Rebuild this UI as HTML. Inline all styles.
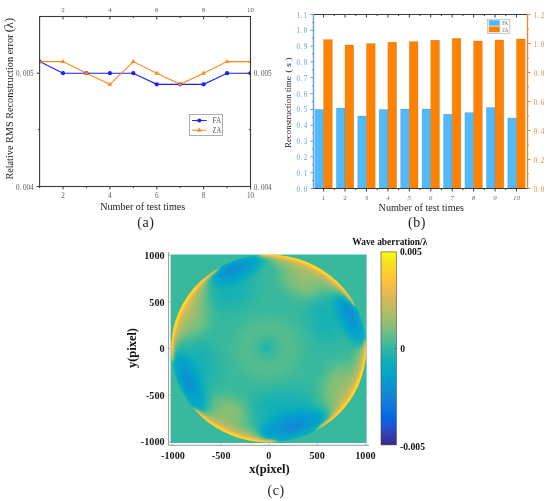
<!DOCTYPE html>
<html><head><meta charset="utf-8"><title>figure</title>
<style>html,body{margin:0;padding:0;background:#fff}svg{display:block}text{font-family:"Liberation Serif",serif}</style>
</head><body>
<svg width="550" height="501" viewBox="0 0 550 501">
<rect width="550" height="501" fill="#fff"/>
<g id="pa">
<path d="M39.60 16.5v1.6M39.60 186.5v1.6M63.03 16.5v3M63.03 186.5v3M86.47 16.5v1.6M86.47 186.5v1.6M109.90 16.5v3M109.90 186.5v3M133.33 16.5v1.6M133.33 186.5v1.6M156.77 16.5v3M156.77 186.5v3M180.20 16.5v1.6M180.20 186.5v1.6M203.63 16.5v3M203.63 186.5v3M227.07 16.5v1.6M227.07 186.5v1.6M250.50 16.5v3M250.50 186.5v3M39.6 73.2h-3M250.5 73.2h-3M39.6 186.5h-3M250.5 186.5h-3M39.6 129.6h-1.6M250.5 129.6h-1.6" stroke="#3a3a3a" stroke-width="1" fill="none"/>
<text x="63.0" y="11.8" font-size="7" text-anchor="middle" fill="#606060">2</text>
<text x="63.0" y="198.4" font-size="7.2" text-anchor="middle" fill="#606060">2</text>
<text x="109.9" y="11.8" font-size="7" text-anchor="middle" fill="#606060">4</text>
<text x="109.9" y="198.4" font-size="7.2" text-anchor="middle" fill="#606060">4</text>
<text x="156.8" y="11.8" font-size="7" text-anchor="middle" fill="#606060">6</text>
<text x="156.8" y="198.4" font-size="7.2" text-anchor="middle" fill="#606060">6</text>
<text x="203.6" y="11.8" font-size="7" text-anchor="middle" fill="#606060">8</text>
<text x="203.6" y="198.4" font-size="7.2" text-anchor="middle" fill="#606060">8</text>
<text x="250.5" y="11.8" font-size="7" text-anchor="middle" fill="#606060">10</text>
<text x="250.5" y="198.4" font-size="7.2" text-anchor="middle" fill="#606060">10</text>
<text x="33.7" y="76.0" font-size="7.4" text-anchor="end" fill="#555" textLength="17.8" lengthAdjust="spacingAndGlyphs">0. 005</text>
<text x="33.7" y="189.5" font-size="7.4" text-anchor="end" fill="#555" textLength="17.8" lengthAdjust="spacingAndGlyphs">0. 004</text>
<text x="253.8" y="76.0" font-size="7.4" text-anchor="start" fill="#555" textLength="17.8" lengthAdjust="spacingAndGlyphs">0. 005</text>
<text x="253.8" y="189.5" font-size="7.4" text-anchor="start" fill="#555" textLength="17.8" lengthAdjust="spacingAndGlyphs">0. 004</text>
<clipPath id="ca"><rect x="39.6" y="16.5" width="210.9" height="170.0"/></clipPath><g clip-path="url(#ca)">
<polyline points="39.6,61.6 63.0,73.2 86.5,73.2 109.9,73.2 133.3,73.2 156.8,84.3 180.2,84.3 203.6,84.3 227.1,73.2 250.5,73.2" fill="none" stroke="#1f1fff" stroke-width="1.15"/>
<polyline points="39.6,61.6 63.0,61.6 86.5,73.2 109.9,84.3 133.3,61.6 156.8,73.2 180.2,84.3 203.6,73.2 227.1,61.6 250.5,61.6" fill="none" stroke="#ff8a1c" stroke-width="1.15"/>
<circle cx="39.6" cy="61.6" r="2.1" fill="#1f1fff"/>
<circle cx="63.0" cy="73.2" r="2.1" fill="#1f1fff"/>
<circle cx="86.5" cy="73.2" r="2.1" fill="#1f1fff"/>
<circle cx="109.9" cy="73.2" r="2.1" fill="#1f1fff"/>
<circle cx="133.3" cy="73.2" r="2.1" fill="#1f1fff"/>
<circle cx="156.8" cy="84.3" r="2.1" fill="#1f1fff"/>
<circle cx="180.2" cy="84.3" r="2.1" fill="#1f1fff"/>
<circle cx="203.6" cy="84.3" r="2.1" fill="#1f1fff"/>
<circle cx="227.1" cy="73.2" r="2.1" fill="#1f1fff"/>
<circle cx="250.5" cy="73.2" r="2.1" fill="#1f1fff"/>
<path d="M39.6 59.0l2.4 4.1h-4.8z" fill="#ff8a1c"/>
<path d="M63.0 59.0l2.4 4.1h-4.8z" fill="#ff8a1c"/>
<path d="M86.5 70.60000000000001l2.4 4.1h-4.8z" fill="#ff8a1c"/>
<path d="M109.9 81.7l2.4 4.1h-4.8z" fill="#ff8a1c"/>
<path d="M133.3 59.0l2.4 4.1h-4.8z" fill="#ff8a1c"/>
<path d="M156.8 70.60000000000001l2.4 4.1h-4.8z" fill="#ff8a1c"/>
<path d="M180.2 81.7l2.4 4.1h-4.8z" fill="#ff8a1c"/>
<path d="M203.6 70.60000000000001l2.4 4.1h-4.8z" fill="#ff8a1c"/>
<path d="M227.1 59.0l2.4 4.1h-4.8z" fill="#ff8a1c"/>
<path d="M250.5 59.0l2.4 4.1h-4.8z" fill="#ff8a1c"/>
</g>
<rect x="39.6" y="16.5" width="210.9" height="170.0" fill="none" stroke="#3a3a3a" stroke-width="1.1"/>
<rect x="189.5" y="114.5" width="33" height="21" fill="#fff" stroke="#888" stroke-width="0.7"/>
<path d="M192 120.5h14.6" stroke="#1f1fff" stroke-width="1"/><circle cx="199.3" cy="120.5" r="2.1" fill="#1f1fff"/>
<path d="M192 130.2h14.6" stroke="#ff8a1c" stroke-width="1"/><path d="M199.3 127.6l2.4 4.1h-4.8z" fill="#ff8a1c"/>
<text x="212.6" y="123.4" font-size="8" text-anchor="start" fill="#555" textLength="8.8" lengthAdjust="spacingAndGlyphs">FA</text>
<text x="212.6" y="133.2" font-size="8" text-anchor="start" fill="#555" textLength="8.8" lengthAdjust="spacingAndGlyphs">ZA</text>
<text x="142.7" y="209.7" font-size="10.2" text-anchor="middle" fill="#1a1a1a" textLength="85" lengthAdjust="spacingAndGlyphs">Number of test times</text>
<text x="0" y="0" font-size="10.2" text-anchor="start" fill="#1a1a1a" textLength="145" lengthAdjust="spacingAndGlyphs" transform="translate(12.9 179.6) rotate(-90)">Relative RMS Reconstruction error</text>
<text x="0" y="0" font-size="11.6" text-anchor="start" fill="#1a1a1a" textLength="14.4" lengthAdjust="spacingAndGlyphs" transform="translate(13.1 32.3) rotate(-90)">(λ)</text>
<text x="145.8" y="226.6" font-size="14" text-anchor="middle" fill="#222" letter-spacing="0.6">(a)</text>
</g>
<g id="pb">
<rect x="314.90" y="109.4" width="8.7" height="79.1" fill="#4fb9fb" stroke="#3c93c8" stroke-opacity="0.45" stroke-width="0.5"/>
<rect x="323.60" y="39.6" width="8.7" height="148.9" fill="#ff8203" stroke="#b85c00" stroke-opacity="0.45" stroke-width="0.5"/>
<rect x="336.33" y="108" width="8.7" height="80.5" fill="#4fb9fb" stroke="#3c93c8" stroke-opacity="0.45" stroke-width="0.5"/>
<rect x="345.03" y="45" width="8.7" height="143.5" fill="#ff8203" stroke="#b85c00" stroke-opacity="0.45" stroke-width="0.5"/>
<rect x="357.76" y="116" width="8.7" height="72.5" fill="#4fb9fb" stroke="#3c93c8" stroke-opacity="0.45" stroke-width="0.5"/>
<rect x="366.46" y="43.6" width="8.7" height="144.9" fill="#ff8203" stroke="#b85c00" stroke-opacity="0.45" stroke-width="0.5"/>
<rect x="379.19" y="109.4" width="8.7" height="79.1" fill="#4fb9fb" stroke="#3c93c8" stroke-opacity="0.45" stroke-width="0.5"/>
<rect x="387.89" y="42.2" width="8.7" height="146.3" fill="#ff8203" stroke="#b85c00" stroke-opacity="0.45" stroke-width="0.5"/>
<rect x="400.62" y="109" width="8.7" height="79.5" fill="#4fb9fb" stroke="#3c93c8" stroke-opacity="0.45" stroke-width="0.5"/>
<rect x="409.32" y="41.6" width="8.7" height="146.9" fill="#ff8203" stroke="#b85c00" stroke-opacity="0.45" stroke-width="0.5"/>
<rect x="422.05" y="109" width="8.7" height="79.5" fill="#4fb9fb" stroke="#3c93c8" stroke-opacity="0.45" stroke-width="0.5"/>
<rect x="430.75" y="40.2" width="8.7" height="148.3" fill="#ff8203" stroke="#b85c00" stroke-opacity="0.45" stroke-width="0.5"/>
<rect x="443.48" y="114.2" width="8.7" height="74.3" fill="#4fb9fb" stroke="#3c93c8" stroke-opacity="0.45" stroke-width="0.5"/>
<rect x="452.18" y="38.4" width="8.7" height="150.1" fill="#ff8203" stroke="#b85c00" stroke-opacity="0.45" stroke-width="0.5"/>
<rect x="464.91" y="112.6" width="8.7" height="75.9" fill="#4fb9fb" stroke="#3c93c8" stroke-opacity="0.45" stroke-width="0.5"/>
<rect x="473.61" y="41" width="8.7" height="147.5" fill="#ff8203" stroke="#b85c00" stroke-opacity="0.45" stroke-width="0.5"/>
<rect x="486.34" y="107.4" width="8.7" height="81.1" fill="#4fb9fb" stroke="#3c93c8" stroke-opacity="0.45" stroke-width="0.5"/>
<rect x="495.04" y="40" width="8.7" height="148.5" fill="#ff8203" stroke="#b85c00" stroke-opacity="0.45" stroke-width="0.5"/>
<rect x="507.77" y="118" width="8.7" height="70.5" fill="#4fb9fb" stroke="#3c93c8" stroke-opacity="0.45" stroke-width="0.5"/>
<rect x="516.47" y="39" width="8.7" height="149.5" fill="#ff8203" stroke="#b85c00" stroke-opacity="0.45" stroke-width="0.5"/>
<path d="M313.5 14.5H527.5M313.5 188.5H527.5" stroke="#3a3a3a" stroke-width="1" fill="none"/>
<path d="M313.5 14.5V188.5" stroke="#66a3da" stroke-width="1.5" fill="none"/>
<path d="M527.5 14.5V188.5" stroke="#e08a3a" stroke-width="1.4" fill="none"/>
<path d="M323.60 14.5v3M323.60 188.5v3M334.31 14.5v1.6M334.31 188.5v1.6M345.03 14.5v3M345.03 188.5v3M355.75 14.5v1.6M355.75 188.5v1.6M366.46 14.5v3M366.46 188.5v3M377.18 14.5v1.6M377.18 188.5v1.6M387.89 14.5v3M387.89 188.5v3M398.60 14.5v1.6M398.60 188.5v1.6M409.32 14.5v3M409.32 188.5v3M420.04 14.5v1.6M420.04 188.5v1.6M430.75 14.5v3M430.75 188.5v3M441.46 14.5v1.6M441.46 188.5v1.6M452.18 14.5v3M452.18 188.5v3M462.89 14.5v1.6M462.89 188.5v1.6M473.61 14.5v3M473.61 188.5v3M484.32 14.5v1.6M484.32 188.5v1.6M495.04 14.5v3M495.04 188.5v3M505.75 14.5v1.6M505.75 188.5v1.6M516.47 14.5v3M516.47 188.5v3" stroke="#3a3a3a" stroke-width="1" fill="none"/>
<path d="M313.5 188.50h-3M313.5 180.59h-1.6M313.5 172.68h-3M313.5 164.77h-1.6M313.5 156.86h-3M313.5 148.95h-1.6M313.5 141.05h-3M313.5 133.14h-1.6M313.5 125.23h-3M313.5 117.32h-1.6M313.5 109.41h-3M313.5 101.50h-1.6M313.5 93.59h-3M313.5 85.68h-1.6M313.5 77.77h-3M313.5 69.86h-1.6M313.5 61.95h-3M313.5 54.05h-1.6M313.5 46.14h-3M313.5 38.23h-1.6M313.5 30.32h-3M313.5 22.41h-1.6M313.5 14.50h-3" stroke="#5b9bd5" stroke-width="1" fill="none"/>
<path d="M527.5 188.50h3M527.5 174.00h1.6M527.5 159.50h3M527.5 145.00h1.6M527.5 130.50h3M527.5 116.00h1.6M527.5 101.50h3M527.5 87.00h1.6M527.5 72.50h3M527.5 58.00h1.6M527.5 43.50h3M527.5 29.00h1.6M527.5 14.50h3" stroke="#e08a3a" stroke-width="1" fill="none"/>
<text x="307.2" y="191.5" font-size="7.2" text-anchor="end" fill="#62a2da" textLength="10.6" lengthAdjust="spacingAndGlyphs">0. 0</text>
<text x="307.2" y="175.7" font-size="7.2" text-anchor="end" fill="#62a2da" textLength="10.6" lengthAdjust="spacingAndGlyphs">0. 1</text>
<text x="307.2" y="159.9" font-size="7.2" text-anchor="end" fill="#62a2da" textLength="10.6" lengthAdjust="spacingAndGlyphs">0. 2</text>
<text x="307.2" y="144.0" font-size="7.2" text-anchor="end" fill="#62a2da" textLength="10.6" lengthAdjust="spacingAndGlyphs">0. 3</text>
<text x="307.2" y="128.2" font-size="7.2" text-anchor="end" fill="#62a2da" textLength="10.6" lengthAdjust="spacingAndGlyphs">0. 4</text>
<text x="307.2" y="112.4" font-size="7.2" text-anchor="end" fill="#62a2da" textLength="10.6" lengthAdjust="spacingAndGlyphs">0. 5</text>
<text x="307.2" y="96.6" font-size="7.2" text-anchor="end" fill="#62a2da" textLength="10.6" lengthAdjust="spacingAndGlyphs">0. 6</text>
<text x="307.2" y="80.8" font-size="7.2" text-anchor="end" fill="#62a2da" textLength="10.6" lengthAdjust="spacingAndGlyphs">0. 7</text>
<text x="307.2" y="65.0" font-size="7.2" text-anchor="end" fill="#62a2da" textLength="10.6" lengthAdjust="spacingAndGlyphs">0. 8</text>
<text x="307.2" y="49.1" font-size="7.2" text-anchor="end" fill="#62a2da" textLength="10.6" lengthAdjust="spacingAndGlyphs">0. 9</text>
<text x="307.2" y="33.3" font-size="7.2" text-anchor="end" fill="#62a2da" textLength="10.6" lengthAdjust="spacingAndGlyphs">1. 0</text>
<text x="307.2" y="17.5" font-size="7.2" text-anchor="end" fill="#62a2da" textLength="10.6" lengthAdjust="spacingAndGlyphs">1. 1</text>
<text x="533.8" y="192.0" font-size="7.2" text-anchor="start" fill="#e0904a" textLength="10.6" lengthAdjust="spacingAndGlyphs">0. 0</text>
<text x="533.8" y="163.0" font-size="7.2" text-anchor="start" fill="#e0904a" textLength="10.6" lengthAdjust="spacingAndGlyphs">0. 2</text>
<text x="533.8" y="134.0" font-size="7.2" text-anchor="start" fill="#e0904a" textLength="10.6" lengthAdjust="spacingAndGlyphs">0. 4</text>
<text x="533.8" y="105.0" font-size="7.2" text-anchor="start" fill="#e0904a" textLength="10.6" lengthAdjust="spacingAndGlyphs">0. 6</text>
<text x="533.8" y="76.0" font-size="7.2" text-anchor="start" fill="#e0904a" textLength="10.6" lengthAdjust="spacingAndGlyphs">0. 8</text>
<text x="533.8" y="47.0" font-size="7.2" text-anchor="start" fill="#e0904a" textLength="10.6" lengthAdjust="spacingAndGlyphs">1. 0</text>
<text x="533.8" y="18.0" font-size="7.2" text-anchor="start" fill="#e0904a" textLength="10.6" lengthAdjust="spacingAndGlyphs">1. 2</text>
<text x="323.6" y="200" font-size="6.9" text-anchor="middle" fill="#6a6a6a">1</text>
<text x="345.0" y="200" font-size="6.9" text-anchor="middle" fill="#6a6a6a">2</text>
<text x="366.5" y="200" font-size="6.9" text-anchor="middle" fill="#6a6a6a">3</text>
<text x="387.9" y="200" font-size="6.9" text-anchor="middle" fill="#6a6a6a" font-style="italic">4</text>
<text x="409.3" y="200" font-size="6.9" text-anchor="middle" fill="#6a6a6a" font-style="italic">5</text>
<text x="430.8" y="200" font-size="6.9" text-anchor="middle" fill="#6a6a6a" font-style="italic">6</text>
<text x="452.2" y="200" font-size="6.9" text-anchor="middle" fill="#6a6a6a" font-style="italic">7</text>
<text x="473.6" y="200" font-size="6.9" text-anchor="middle" fill="#6a6a6a" font-style="italic">8</text>
<text x="495.0" y="200" font-size="6.9" text-anchor="middle" fill="#6a6a6a" font-style="italic">9</text>
<text x="516.5" y="200" font-size="6.9" text-anchor="middle" fill="#6a6a6a" font-style="italic">10</text>
<rect x="487.5" y="19.3" width="22.3" height="14" fill="#fff" stroke="#aaa" stroke-width="0.7"/>
<rect x="487.8" y="19.6" width="12.5" height="13.4" fill="#e4e4e4"/>
<rect x="489" y="20.3" width="10.7" height="5.3" fill="#4fb9fb"/>
<rect x="489" y="26.6" width="10.7" height="5.4" fill="#ff8203"/>
<text x="502.2" y="25.4" font-size="6.5" text-anchor="start" fill="#666" textLength="6" lengthAdjust="spacingAndGlyphs">FA</text>
<text x="502.2" y="31.9" font-size="6.5" text-anchor="start" fill="#666" textLength="6" lengthAdjust="spacingAndGlyphs">ZA</text>
<text x="421.3" y="210.6" font-size="10.3" text-anchor="middle" fill="#222" textLength="85.5" lengthAdjust="spacingAndGlyphs">Number of test times</text>
<text x="0" y="0" font-size="8.8" text-anchor="start" fill="#1a1a1a" textLength="71.7" lengthAdjust="spacingAndGlyphs" transform="translate(291.2 148) rotate(-90)">Reconstruction time</text>
<text x="0" y="0" font-size="8.8" text-anchor="start" fill="#1a1a1a" textLength="15.5" lengthAdjust="spacingAndGlyphs" transform="translate(291.2 72.8) rotate(-90)">( s )</text>
<text x="417" y="227" font-size="14" text-anchor="middle" fill="#222" letter-spacing="0.6">(b)</text>
</g>
<g id="pc">
<defs>
<filter id="b1" x="-100%" y="-100%" width="300%" height="300%" color-interpolation-filters="sRGB"><feGaussianBlur stdDeviation="1.0"/></filter>
<filter id="b2" x="-100%" y="-100%" width="300%" height="300%" color-interpolation-filters="sRGB"><feGaussianBlur stdDeviation="2"/></filter>
<filter id="b3" x="-100%" y="-100%" width="300%" height="300%" color-interpolation-filters="sRGB"><feGaussianBlur stdDeviation="3"/></filter>
<filter id="b5" x="-100%" y="-100%" width="300%" height="300%" color-interpolation-filters="sRGB"><feGaussianBlur stdDeviation="5"/></filter>
<filter id="b8" x="-100%" y="-100%" width="300%" height="300%" color-interpolation-filters="sRGB"><feGaussianBlur stdDeviation="8"/></filter>
<filter id="b12" x="-100%" y="-100%" width="300%" height="300%" color-interpolation-filters="sRGB"><feGaussianBlur stdDeviation="12"/></filter>
<filter id="pmap" x="0" y="0" width="100%" height="100%" color-interpolation-filters="sRGB"><feComponentTransfer><feFuncR type="table" tableValues="0.208 0.212 0.212 0.208 0.196 0.171 0.125 0.059 0.012 0.006 0.017 0.033 0.050 0.063 0.072 0.078 0.079 0.075 0.064 0.049 0.034 0.026 0.024 0.023 0.023 0.027 0.038 0.059 0.084 0.113 0.145 0.180 0.218 0.259 0.302 0.348 0.395 0.442 0.487 0.530 0.571 0.610 0.647 0.683 0.718 0.752 0.786 0.819 0.851 0.882 0.914 0.945 0.974 0.994 0.999 0.996 0.988 0.979 0.970 0.963 0.959 0.960 0.966 0.976"/><feFuncG type="table" tableValues="0.166 0.190 0.214 0.239 0.265 0.292 0.324 0.360 0.388 0.409 0.427 0.443 0.459 0.474 0.489 0.504 0.520 0.537 0.557 0.577 0.597 0.614 0.629 0.642 0.653 0.664 0.674 0.684 0.693 0.702 0.710 0.718 0.725 0.732 0.738 0.742 0.746 0.748 0.749 0.749 0.749 0.747 0.746 0.744 0.741 0.738 0.736 0.733 0.730 0.727 0.726 0.726 0.731 0.746 0.765 0.786 0.807 0.827 0.848 0.871 0.895 0.922 0.951 0.983"/><feFuncB type="table" tableValues="0.529 0.578 0.627 0.677 0.728 0.779 0.830 0.868 0.882 0.883 0.879 0.872 0.864 0.855 0.847 0.838 0.831 0.826 0.824 0.823 0.820 0.814 0.804 0.791 0.777 0.761 0.744 0.725 0.706 0.686 0.665 0.642 0.619 0.595 0.571 0.547 0.524 0.503 0.484 0.466 0.449 0.434 0.419 0.404 0.391 0.377 0.363 0.350 0.336 0.322 0.306 0.289 0.267 0.240 0.216 0.197 0.179 0.163 0.147 0.131 0.113 0.095 0.075 0.054"/></feComponentTransfer></filter>
<clipPath id="ce"><ellipse cx="268.7" cy="348.5" rx="97.5" ry="93.9"/></clipPath>
<clipPath id="cr"><rect x="170.6" y="254.5" width="196.00000000000003" height="188.39999999999998"/></clipPath>
<linearGradient id="par" x1="0" y1="1" x2="0" y2="0"><stop offset="0.0000" stop-color="#352a87"/><stop offset="0.0476" stop-color="#353dad"/><stop offset="0.0952" stop-color="#2053d4"/><stop offset="0.1429" stop-color="#0268e1"/><stop offset="0.1905" stop-color="#0d75dc"/><stop offset="0.2381" stop-color="#1481d6"/><stop offset="0.2857" stop-color="#108ed2"/><stop offset="0.3333" stop-color="#079ccf"/><stop offset="0.3810" stop-color="#06a7c6"/><stop offset="0.4286" stop-color="#0faeb9"/><stop offset="0.4762" stop-color="#25b5a9"/><stop offset="0.5238" stop-color="#42bb98"/><stop offset="0.5714" stop-color="#65be86"/><stop offset="0.6190" stop-color="#87bf77"/><stop offset="0.6667" stop-color="#a5be6b"/><stop offset="0.7143" stop-color="#c0bc60"/><stop offset="0.7619" stop-color="#d9ba56"/><stop offset="0.8095" stop-color="#f1b94a"/><stop offset="0.8571" stop-color="#ffc337"/><stop offset="0.9048" stop-color="#fad32a"/><stop offset="0.9524" stop-color="#f5e41d"/><stop offset="1.0000" stop-color="#f9fb0e"/></linearGradient>
</defs>
<g clip-path="url(#cr)"><g filter="url(#pmap)">
<rect x="167.6" y="251.5" width="202.00000000000003" height="194.39999999999998" fill="#828282"/>
<g clip-path="url(#ce)">
<ellipse cx="232" cy="292" rx="24" ry="15" fill="#000" opacity="0.12" filter="url(#b8)" transform="rotate(-25 232 292)"/>
<ellipse cx="324" cy="318" rx="14" ry="26" fill="#000" opacity="0.12" filter="url(#b8)" transform="rotate(-15 324 318)"/>
<ellipse cx="200" cy="364" rx="15" ry="24" fill="#000" opacity="0.12" filter="url(#b8)" transform="rotate(-15 200 364)"/>
<ellipse cx="282" cy="408" rx="32" ry="16" fill="#000" opacity="0.14" filter="url(#b8)" transform="rotate(-5 282 408)"/>
<ellipse cx="235.5" cy="269.3" rx="10" ry="28" fill="#000" opacity="0.34" filter="url(#b5)" transform="rotate(-112 235.5 269.3)"/>
<ellipse cx="349.8" cy="316.2" rx="10" ry="29" fill="#000" opacity="0.34" filter="url(#b5)" transform="rotate(-22.5 349.8 316.2)"/>
<ellipse cx="189.4" cy="382.5" rx="10" ry="32" fill="#000" opacity="0.32" filter="url(#b5)" transform="rotate(-204 189.4 382.5)"/>
<ellipse cx="291.8" cy="426.1" rx="12" ry="36" fill="#000" opacity="0.34" filter="url(#b5)" transform="rotate(74 291.8 426.1)"/>
<ellipse cx="233.3" cy="268.1" rx="4" ry="11" fill="#000" opacity="0.2" filter="url(#b3)" transform="rotate(-113 233.3 268.1)"/>
<ellipse cx="351.3" cy="314.7" rx="4" ry="11" fill="#000" opacity="0.2" filter="url(#b3)" transform="rotate(-23 351.3 314.7)"/>
<ellipse cx="187.6" cy="383.3" rx="4" ry="12" fill="#000" opacity="0.18" filter="url(#b3)" transform="rotate(-204 187.6 383.3)"/>
<ellipse cx="294.5" cy="427.3" rx="4" ry="12" fill="#000" opacity="0.2" filter="url(#b3)" transform="rotate(72.5 294.5 427.3)"/>
<path d="M341.2 285.7 L340.0 284.5 L338.8 283.3 L337.6 282.1 L336.4 281.0 L335.2 279.8 L333.9 278.7 L332.7 277.6 L331.4 276.6 L330.1 275.5 L328.7 274.5 L327.4 273.5 L326.0 272.5 L324.6 271.6 L323.2 270.7 L321.8 269.7 L320.4 268.9 L318.9 268.0 L317.4 267.2 L316.0 266.4 L314.5 265.6 L313.0 264.8 L311.4 264.1 L309.9 263.4 L308.4 262.7 L306.8 262.1 L305.2 261.4 L303.6 260.8 L302.0 260.3 L300.4 259.7 L298.8 259.2 L297.2 258.7 L295.6 258.2 L293.9 257.8 L292.3 257.4 L290.6 257.0 L289.0 256.7 L287.3 256.3 L285.6 256.0 L284.0 255.8 L282.3 255.5" fill="none" stroke="#fff" stroke-width="22" opacity="0.26" stroke-linecap="round" filter="url(#b5)"/>
<path d="M196.2 285.7 L195.3 286.6 L194.5 287.6 L193.6 288.6 L192.7 289.7 L191.9 290.7 L191.0 291.7 L190.2 292.8 L189.4 293.8 L188.6 294.9 L187.9 296.0 L187.1 297.1 L186.4 298.2 L185.7 299.3 L185.0 300.4 L184.3 301.6 L183.6 302.7 L182.9 303.8 L182.3 305.0 L181.7 306.2 L181.1 307.3 L180.5 308.5 L179.9 309.7 L179.4 310.9 L178.8 312.1 L178.3 313.3 L177.8 314.5 L177.3 315.8 L176.8 317.0 L176.4 318.2 L176.0 319.5 L175.6 320.7 L175.2 322.0 L174.8 323.2 L174.4 324.5 L174.1 325.8 L173.8 327.1 L173.5 328.3 L173.2 329.6 L172.9 330.9 L172.7 332.2" fill="none" stroke="#fff" stroke-width="22" opacity="0.26" stroke-linecap="round" filter="url(#b5)"/>
<path d="M211.4 424.5 L212.3 425.1 L213.2 425.7 L214.1 426.3 L215.0 426.9 L216.0 427.5 L216.9 428.0 L217.8 428.6 L218.8 429.2 L219.7 429.7 L220.7 430.2 L221.7 430.7 L222.6 431.3 L223.6 431.8 L224.6 432.2 L225.6 432.7 L226.6 433.2 L227.6 433.6 L228.6 434.1 L229.6 434.5 L230.6 434.9 L231.6 435.3 L232.6 435.7 L233.7 436.1 L234.7 436.5 L235.8 436.9 L236.8 437.2 L237.8 437.6 L238.9 437.9 L239.9 438.2 L241.0 438.5 L242.1 438.8 L243.1 439.1 L244.2 439.4 L245.3 439.7 L246.4 439.9 L247.4 440.1 L248.5 440.4 L249.6 440.6 L250.7 440.8 L251.8 441.0" fill="none" stroke="#fff" stroke-width="22" opacity="0.26" stroke-linecap="round" filter="url(#b5)"/>
<path d="M343.4 408.9 L344.3 407.8 L345.2 406.7 L346.1 405.6 L347.0 404.5 L347.8 403.4 L348.7 402.2 L349.5 401.1 L350.3 399.9 L351.1 398.7 L351.8 397.6 L352.6 396.4 L353.3 395.2 L354.0 394.0 L354.7 392.7 L355.4 391.5 L356.0 390.3 L356.7 389.0 L357.3 387.7 L357.9 386.5 L358.4 385.2 L359.0 383.9 L359.5 382.6 L360.1 381.3 L360.6 380.0 L361.0 378.7 L361.5 377.4 L361.9 376.0 L362.3 374.7 L362.7 373.4 L363.1 372.0 L363.4 370.7 L363.8 369.3 L364.1 367.9 L364.4 366.6 L364.6 365.2 L364.9 363.8 L365.1 362.5 L365.3 361.1 L365.5 359.7 L365.7 358.3" fill="none" stroke="#fff" stroke-width="22" opacity="0.26" stroke-linecap="round" filter="url(#b5)"/>
<ellipse cx="193" cy="315" rx="13" ry="23" fill="#fff" opacity="0.28" filter="url(#b8)" transform="rotate(14 193 315)"/>
<ellipse cx="303" cy="281" rx="23" ry="13" fill="#fff" opacity="0.28" filter="url(#b8)" transform="rotate(28 303 281)"/>
<ellipse cx="230" cy="412" rx="19" ry="12" fill="#fff" opacity="0.28" filter="url(#b8)" transform="rotate(22 230 412)"/>
<ellipse cx="338" cy="386" rx="12" ry="23" fill="#fff" opacity="0.28" filter="url(#b8)" transform="rotate(22 338 386)"/>
<ellipse cx="268" cy="349" rx="34" ry="32" fill="#fff" opacity="0.09" filter="url(#b8)"/>
<ellipse cx="267" cy="348" rx="14" ry="14" fill="#000" opacity="0.06" filter="url(#b3)"/>
<ellipse cx="267" cy="347.5" rx="4.5" ry="4.5" fill="#000" opacity="0.1" filter="url(#b2)"/>
<path d="M356.9 307.1 L355.7 304.9 L354.5 302.7 L353.3 300.6 L352.0 298.5 L350.6 296.5 L349.2 294.5 L347.7 292.5 L346.2 290.5 L344.6 288.6 L343.0 286.8 L341.3 284.9 L339.6 283.2 L337.8 281.4 L336.0 279.7 L334.1 278.1 L332.2 276.5 L330.2 274.9 L328.2 273.4 L326.2 271.9 L324.1 270.5 L322.0 269.2 L319.9 267.9 L317.7 266.6 L315.5 265.5 L313.3 264.3 L311.0 263.2 L308.7 262.2 L306.4 261.2 L304.0 260.3 L301.6 259.5 L299.3 258.7 L296.8 258.0 L294.4 257.3 L291.9 256.7 L289.5 256.1 L287.0 255.7 L284.5 255.2 L282.0 254.9 L279.5 254.6 L277.0 254.3 L274.4 254.2 L271.9 254.1 L269.4 254.0 L266.8 254.0 L264.3 254.1 L261.8 254.2 L259.3 254.4 L256.7 254.7 L256.8 255.3 L259.5 256.8 L262.0 257.4 L264.5 257.8 L266.9 258.2 L269.3 258.6 L271.7 259.0 L274.1 259.4 L276.5 259.9 L278.8 260.4 L281.2 260.9 L283.5 261.4 L285.8 262.0 L288.1 262.7 L290.3 263.3 L292.6 264.0 L294.8 264.8 L297.0 265.6 L299.2 266.4 L301.4 267.3 L303.5 268.2 L305.6 269.1 L307.7 270.1 L309.8 271.1 L311.9 272.1 L313.9 273.2 L315.9 274.3 L317.9 275.5 L319.9 276.7 L321.9 278.0 L323.8 279.2 L325.7 280.5 L327.6 281.9 L329.4 283.3 L331.3 284.7 L333.1 286.1 L334.9 287.6 L336.6 289.2 L338.4 290.7 L340.1 292.3 L341.8 293.9 L343.5 295.6 L345.1 297.3 L346.8 299.0 L348.4 300.7 L350.1 302.5 L351.8 304.3 L353.6 306.0 L356.3 307.3Z" fill="#fff" opacity="0.22" filter="url(#b2)"/>
<path d="M356.9 307.1 L355.7 304.9 L354.5 302.7 L353.3 300.6 L352.0 298.5 L350.6 296.5 L349.2 294.5 L347.7 292.5 L346.2 290.5 L344.6 288.6 L343.0 286.8 L341.3 284.9 L339.6 283.2 L337.8 281.4 L336.0 279.7 L334.1 278.1 L332.2 276.5 L330.2 274.9 L328.2 273.4 L326.2 271.9 L324.1 270.5 L322.0 269.2 L319.9 267.9 L317.7 266.6 L315.5 265.5 L313.3 264.3 L311.0 263.2 L308.7 262.2 L306.4 261.2 L304.0 260.3 L301.6 259.5 L299.3 258.7 L296.8 258.0 L294.4 257.3 L291.9 256.7 L289.5 256.1 L287.0 255.7 L284.5 255.2 L282.0 254.9 L279.5 254.6 L277.0 254.3 L274.4 254.2 L271.9 254.1 L269.4 254.0 L266.8 254.0 L264.3 254.1 L261.8 254.2 L259.3 254.4 L256.7 254.7 L256.8 255.3 L259.4 256.0 L261.9 256.1 L264.4 256.3 L266.9 256.4 L269.4 256.6 L271.8 256.9 L274.3 257.2 L276.7 257.5 L279.1 257.8 L281.5 258.2 L283.9 258.7 L286.3 259.2 L288.7 259.8 L291.0 260.4 L293.4 261.0 L295.7 261.8 L298.0 262.5 L300.3 263.3 L302.5 264.2 L304.8 265.1 L307.0 266.0 L309.2 267.0 L311.4 268.1 L313.5 269.1 L315.6 270.3 L317.7 271.5 L319.8 272.7 L321.8 274.0 L323.8 275.3 L325.8 276.6 L327.7 278.0 L329.6 279.5 L331.5 281.0 L333.4 282.5 L335.2 284.1 L336.9 285.7 L338.7 287.3 L340.4 289.0 L342.1 290.7 L343.7 292.5 L345.3 294.3 L346.9 296.1 L348.4 297.9 L349.9 299.8 L351.4 301.7 L352.9 303.7 L354.4 305.6 L356.3 307.3Z" fill="#fff" opacity="0.5" filter="url(#b1)"/>
<path d="M355.5 304.0 L354.3 302.0 L353.1 300.0 L351.9 298.1 L350.6 296.1 L349.2 294.2 L347.8 292.3 L346.4 290.5 L344.9 288.7 L343.4 286.9 L341.8 285.2 L340.2 283.5 L338.5 281.8 L336.8 280.2 L335.1 278.6 L333.3 277.1 L331.4 275.6 L329.6 274.2 L327.7 272.7 L325.8 271.4 L323.8 270.1 L321.8 268.8 L319.8 267.6 L317.7 266.4 L315.6 265.3 L313.5 264.2 L311.3 263.2 L309.2 262.2 L307.0 261.3 L304.8 260.4 L302.5 259.6 L300.3 258.8 L298.0 258.1 L295.7 257.4 L293.4 256.8 L291.1 256.3 L288.7 255.8 L286.4 255.3 L284.0 255.0 L281.6 254.6 L279.3 254.3 L276.9 254.1 L274.5 254.0 L272.1 253.9 L269.7 253.8 L267.3 253.8 L264.9 253.9 L262.5 254.0 L260.1 254.2 L260.2 255.0 L262.6 255.2 L265.0 255.3 L267.3 255.4 L269.7 255.5 L272.0 255.6 L274.4 255.8 L276.7 256.1 L279.0 256.3 L281.4 256.7 L283.7 257.1 L286.0 257.5 L288.3 258.0 L290.5 258.5 L292.8 259.1 L295.0 259.7 L297.3 260.4 L299.5 261.1 L301.7 261.9 L303.9 262.7 L306.0 263.6 L308.1 264.5 L310.3 265.4 L312.3 266.4 L314.4 267.5 L316.4 268.6 L318.5 269.7 L320.4 270.9 L322.4 272.1 L324.3 273.4 L326.2 274.7 L328.1 276.0 L329.9 277.4 L331.7 278.9 L333.5 280.3 L335.2 281.9 L336.9 283.4 L338.6 285.0 L340.2 286.6 L341.8 288.3 L343.4 290.0 L344.9 291.7 L346.4 293.4 L347.8 295.2 L349.2 297.0 L350.6 298.9 L351.9 300.7 L353.3 302.6 L354.8 304.4Z" fill="#fff" opacity="0.9" filter="url(#b1)"/>
<path d="M219.7 266.7 L217.5 267.9 L215.5 269.1 L213.4 270.4 L211.4 271.8 L209.4 273.2 L207.5 274.7 L205.6 276.2 L203.7 277.7 L201.9 279.3 L200.1 281.0 L198.4 282.6 L196.7 284.4 L195.0 286.1 L193.4 287.9 L191.9 289.8 L190.4 291.6 L188.9 293.5 L187.5 295.5 L186.1 297.5 L184.8 299.5 L183.6 301.5 L182.4 303.6 L181.2 305.7 L180.2 307.8 L179.1 310.0 L178.1 312.1 L177.2 314.3 L176.4 316.6 L175.6 318.8 L174.8 321.1 L174.1 323.3 L173.5 325.6 L172.9 327.9 L172.4 330.3 L172.0 332.6 L171.6 334.9 L171.3 337.3 L171.0 339.6 L170.8 342.0 L170.7 344.4 L170.6 346.7 L170.6 349.1 L170.6 351.5 L170.8 353.9 L170.9 356.2 L171.2 358.6 L171.5 360.9 L171.8 363.3 L172.4 363.2 L173.8 360.6 L174.3 358.2 L174.6 355.9 L174.9 353.6 L175.2 351.3 L175.5 349.1 L175.9 346.8 L176.2 344.6 L176.6 342.4 L177.1 340.2 L177.5 338.0 L178.0 335.9 L178.6 333.7 L179.1 331.6 L179.8 329.5 L180.4 327.4 L181.1 325.3 L181.8 323.2 L182.6 321.1 L183.4 319.1 L184.3 317.1 L185.1 315.1 L186.1 313.1 L187.0 311.1 L188.0 309.1 L189.0 307.2 L190.1 305.3 L191.2 303.4 L192.4 301.5 L193.6 299.6 L194.8 297.7 L196.0 295.9 L197.3 294.1 L198.7 292.3 L200.0 290.5 L201.4 288.8 L202.9 287.0 L204.3 285.3 L205.8 283.6 L207.4 281.9 L208.9 280.2 L210.5 278.5 L212.2 276.9 L213.8 275.2 L215.5 273.5 L217.1 271.8 L218.8 269.9 L220.0 267.2Z" fill="#fff" opacity="0.22" filter="url(#b2)"/>
<path d="M219.7 266.7 L217.5 267.9 L215.5 269.1 L213.4 270.4 L211.4 271.8 L209.4 273.2 L207.5 274.7 L205.6 276.2 L203.7 277.7 L201.9 279.3 L200.1 281.0 L198.4 282.6 L196.7 284.4 L195.0 286.1 L193.4 287.9 L191.9 289.8 L190.4 291.6 L188.9 293.5 L187.5 295.5 L186.1 297.5 L184.8 299.5 L183.6 301.5 L182.4 303.6 L181.2 305.7 L180.2 307.8 L179.1 310.0 L178.1 312.1 L177.2 314.3 L176.4 316.6 L175.6 318.8 L174.8 321.1 L174.1 323.3 L173.5 325.6 L172.9 327.9 L172.4 330.3 L172.0 332.6 L171.6 334.9 L171.3 337.3 L171.0 339.6 L170.8 342.0 L170.7 344.4 L170.6 346.7 L170.6 349.1 L170.6 351.5 L170.8 353.9 L170.9 356.2 L171.2 358.6 L171.5 360.9 L171.8 363.3 L172.4 363.2 L173.0 360.7 L173.0 358.4 L173.1 356.0 L173.2 353.7 L173.3 351.4 L173.4 349.1 L173.6 346.8 L173.8 344.5 L174.1 342.2 L174.4 340.0 L174.8 337.7 L175.2 335.5 L175.7 333.2 L176.2 331.0 L176.7 328.8 L177.3 326.6 L178.0 324.4 L178.7 322.2 L179.5 320.1 L180.3 318.0 L181.1 315.9 L182.0 313.8 L183.0 311.7 L183.9 309.6 L185.0 307.6 L186.1 305.6 L187.2 303.6 L188.4 301.6 L189.6 299.7 L190.9 297.8 L192.2 295.9 L193.5 294.0 L194.9 292.2 L196.3 290.4 L197.8 288.6 L199.3 286.8 L200.9 285.1 L202.5 283.4 L204.1 281.7 L205.8 280.1 L207.5 278.5 L209.2 276.9 L211.0 275.3 L212.8 273.8 L214.6 272.3 L216.5 270.7 L218.3 269.2 L220.0 267.2Z" fill="#fff" opacity="0.5" filter="url(#b1)"/>
<path d="M216.6 268.2 L214.7 269.4 L212.7 270.7 L210.8 271.9 L209.0 273.3 L207.1 274.7 L205.3 276.1 L203.6 277.6 L201.9 279.1 L200.2 280.6 L198.5 282.2 L196.9 283.8 L195.4 285.4 L193.8 287.1 L192.4 288.8 L190.9 290.6 L189.5 292.4 L188.2 294.2 L186.8 296.1 L185.6 297.9 L184.4 299.8 L183.2 301.8 L182.1 303.7 L181.0 305.7 L180.0 307.7 L179.0 309.8 L178.1 311.8 L177.2 313.9 L176.4 316.0 L175.6 318.1 L174.9 320.2 L174.2 322.4 L173.6 324.5 L173.0 326.7 L172.5 328.9 L172.1 331.1 L171.7 333.3 L171.3 335.5 L171.0 337.7 L170.8 339.9 L170.6 342.2 L170.5 344.4 L170.4 346.6 L170.4 348.9 L170.4 351.1 L170.5 353.4 L170.7 355.6 L170.9 357.8 L171.1 360.0 L171.9 359.9 L172.1 357.7 L172.1 355.5 L172.1 353.3 L172.1 351.1 L172.2 348.9 L172.3 346.7 L172.4 344.5 L172.6 342.3 L172.9 340.1 L173.2 338.0 L173.5 335.8 L173.9 333.6 L174.3 331.5 L174.8 329.4 L175.3 327.2 L175.9 325.1 L176.5 323.0 L177.2 320.9 L177.9 318.9 L178.7 316.8 L179.5 314.8 L180.4 312.8 L181.3 310.8 L182.2 308.8 L183.2 306.9 L184.3 304.9 L185.4 303.0 L186.5 301.1 L187.7 299.2 L188.9 297.4 L190.1 295.6 L191.4 293.8 L192.8 292.0 L194.1 290.3 L195.6 288.6 L197.0 286.9 L198.5 285.3 L200.1 283.7 L201.6 282.1 L203.2 280.5 L204.9 279.0 L206.5 277.5 L208.2 276.0 L210.0 274.6 L211.7 273.2 L213.5 271.8 L215.3 270.4 L217.0 268.9Z" fill="#fff" opacity="0.9" filter="url(#b1)"/>
<path d="M192.5 408.0 L193.8 409.5 L195.1 411.0 L196.4 412.4 L197.8 413.8 L199.3 415.2 L200.7 416.6 L202.2 418.0 L203.7 419.3 L205.2 420.6 L206.8 421.8 L208.4 423.0 L210.0 424.2 L211.6 425.4 L213.3 426.5 L215.0 427.6 L216.7 428.6 L218.5 429.7 L220.2 430.6 L222.0 431.6 L223.8 432.5 L225.6 433.4 L227.4 434.2 L229.3 435.0 L231.2 435.8 L233.0 436.5 L234.9 437.2 L236.9 437.9 L238.8 438.5 L240.7 439.1 L242.7 439.6 L244.7 440.1 L246.6 440.6 L248.6 441.0 L250.6 441.4 L252.6 441.7 L254.6 442.0 L256.6 442.3 L258.7 442.5 L260.7 442.7 L262.7 442.8 L264.7 442.9 L266.8 443.0 L268.8 443.0 L270.8 443.0 L272.9 442.9 L274.9 442.8 L276.9 442.7 L279.0 442.5 L278.9 441.9 L276.7 440.3 L274.7 439.7 L272.7 439.2 L270.7 438.8 L268.8 438.4 L266.9 438.1 L265.0 437.7 L263.0 437.3 L261.2 436.9 L259.3 436.5 L257.4 436.0 L255.6 435.6 L253.7 435.1 L251.9 434.7 L250.0 434.2 L248.2 433.6 L246.4 433.1 L244.6 432.6 L242.8 432.0 L241.1 431.4 L239.3 430.8 L237.6 430.1 L235.8 429.5 L234.1 428.8 L232.3 428.1 L230.6 427.4 L228.9 426.6 L227.2 425.9 L225.5 425.1 L223.8 424.3 L222.2 423.5 L220.5 422.6 L218.8 421.7 L217.2 420.9 L215.5 419.9 L213.9 419.0 L212.3 418.1 L210.6 417.1 L209.0 416.1 L207.4 415.1 L205.8 414.1 L204.1 413.1 L202.5 412.0 L200.8 411.0 L199.2 409.9 L197.4 408.9 L195.6 407.9 L192.9 407.6Z" fill="#fff" opacity="0.22" filter="url(#b2)"/>
<path d="M192.5 408.0 L193.8 409.5 L195.1 411.0 L196.4 412.4 L197.8 413.8 L199.3 415.2 L200.7 416.6 L202.2 418.0 L203.7 419.3 L205.2 420.6 L206.8 421.8 L208.4 423.0 L210.0 424.2 L211.6 425.4 L213.3 426.5 L215.0 427.6 L216.7 428.6 L218.5 429.7 L220.2 430.6 L222.0 431.6 L223.8 432.5 L225.6 433.4 L227.4 434.2 L229.3 435.0 L231.2 435.8 L233.0 436.5 L234.9 437.2 L236.9 437.9 L238.8 438.5 L240.7 439.1 L242.7 439.6 L244.7 440.1 L246.6 440.6 L248.6 441.0 L250.6 441.4 L252.6 441.7 L254.6 442.0 L256.6 442.3 L258.7 442.5 L260.7 442.7 L262.7 442.8 L264.7 442.9 L266.8 443.0 L268.8 443.0 L270.8 443.0 L272.9 442.9 L274.9 442.8 L276.9 442.7 L279.0 442.5 L278.9 441.9 L276.8 441.2 L274.8 440.9 L272.8 440.7 L270.8 440.5 L268.8 440.4 L266.8 440.2 L264.9 439.9 L262.9 439.7 L261.0 439.4 L259.0 439.1 L257.1 438.8 L255.1 438.4 L253.2 438.0 L251.3 437.6 L249.4 437.2 L247.5 436.7 L245.6 436.2 L243.8 435.7 L241.9 435.1 L240.1 434.6 L238.2 433.9 L236.4 433.3 L234.6 432.6 L232.8 431.9 L231.0 431.2 L229.2 430.4 L227.4 429.6 L225.7 428.8 L223.9 428.0 L222.2 427.1 L220.5 426.2 L218.8 425.3 L217.1 424.3 L215.5 423.4 L213.8 422.3 L212.2 421.3 L210.6 420.3 L208.9 419.2 L207.4 418.1 L205.8 416.9 L204.2 415.8 L202.7 414.6 L201.1 413.4 L199.6 412.2 L198.1 410.9 L196.5 409.7 L194.9 408.5 L192.9 407.6Z" fill="#fff" opacity="0.5" filter="url(#b1)"/>
<path d="M194.5 410.6 L195.8 412.0 L197.1 413.3 L198.4 414.7 L199.7 415.9 L201.1 417.2 L202.4 418.5 L203.9 419.7 L205.3 420.9 L206.8 422.0 L208.2 423.2 L209.7 424.3 L211.3 425.4 L212.8 426.4 L214.4 427.4 L216.0 428.4 L217.6 429.4 L219.2 430.3 L220.9 431.2 L222.5 432.1 L224.2 432.9 L225.9 433.8 L227.6 434.5 L229.3 435.3 L231.1 436.0 L232.8 436.7 L234.6 437.3 L236.4 437.9 L238.2 438.5 L240.0 439.1 L241.8 439.6 L243.6 440.1 L245.5 440.5 L247.3 440.9 L249.2 441.3 L251.0 441.7 L252.9 442.0 L254.8 442.2 L256.6 442.5 L258.5 442.7 L260.4 442.9 L262.3 443.0 L264.2 443.1 L266.1 443.2 L268.0 443.2 L269.9 443.2 L271.8 443.2 L273.7 443.1 L275.6 443.0 L275.5 442.2 L273.6 441.8 L271.7 441.7 L269.9 441.6 L268.0 441.5 L266.1 441.4 L264.3 441.3 L262.4 441.1 L260.6 440.9 L258.7 440.6 L256.9 440.4 L255.1 440.1 L253.3 439.8 L251.4 439.4 L249.6 439.0 L247.8 438.6 L246.0 438.2 L244.3 437.7 L242.5 437.2 L240.7 436.7 L239.0 436.2 L237.2 435.6 L235.5 435.0 L233.8 434.3 L232.0 433.7 L230.3 433.0 L228.7 432.3 L227.0 431.5 L225.3 430.7 L223.7 429.9 L222.0 429.1 L220.4 428.2 L218.8 427.4 L217.2 426.4 L215.7 425.5 L214.1 424.5 L212.6 423.5 L211.0 422.5 L209.5 421.5 L208.1 420.4 L206.6 419.3 L205.1 418.2 L203.7 417.1 L202.3 415.9 L200.9 414.8 L199.5 413.6 L198.1 412.4 L196.7 411.2 L195.1 410.1Z" fill="#fff" opacity="0.9" filter="url(#b1)"/>
<path d="M316.3 431.2 L318.3 430.0 L320.4 428.8 L322.4 427.6 L324.4 426.3 L326.3 425.0 L328.2 423.6 L330.1 422.2 L332.0 420.7 L333.8 419.2 L335.6 417.7 L337.3 416.1 L339.0 414.4 L340.6 412.8 L342.2 411.1 L343.8 409.3 L345.3 407.5 L346.8 405.7 L348.2 403.9 L349.6 402.0 L350.9 400.1 L352.2 398.1 L353.4 396.2 L354.6 394.2 L355.7 392.1 L356.8 390.1 L357.8 388.0 L358.8 385.9 L359.7 383.8 L360.6 381.6 L361.4 379.5 L362.1 377.3 L362.8 375.1 L363.5 372.9 L364.1 370.6 L364.6 368.4 L365.1 366.1 L365.5 363.9 L365.9 361.6 L366.2 359.3 L366.4 357.0 L366.6 354.7 L366.7 352.4 L366.8 350.1 L366.8 347.8 L366.8 345.5 L366.6 343.2 L366.5 340.9 L366.3 338.6 L365.7 338.7 L364.1 341.1 L363.5 343.4 L363.1 345.6 L362.6 347.8 L362.2 350.0 L361.8 352.2 L361.3 354.4 L360.9 356.5 L360.4 358.6 L359.9 360.7 L359.3 362.8 L358.7 364.9 L358.1 367.0 L357.4 369.0 L356.7 371.1 L356.0 373.1 L355.3 375.1 L354.5 377.1 L353.6 379.0 L352.8 381.0 L351.9 382.9 L350.9 384.8 L350.0 386.7 L349.0 388.6 L347.9 390.5 L346.9 392.3 L345.8 394.2 L344.6 396.0 L343.5 397.8 L342.3 399.6 L341.0 401.3 L339.7 403.1 L338.4 404.8 L337.1 406.5 L335.7 408.2 L334.3 409.9 L332.9 411.6 L331.4 413.2 L329.9 414.9 L328.4 416.5 L326.8 418.1 L325.3 419.7 L323.6 421.3 L322.0 422.9 L320.4 424.5 L318.7 426.2 L317.1 427.9 L316.0 430.6Z" fill="#fff" opacity="0.22" filter="url(#b2)"/>
<path d="M316.3 431.2 L318.3 430.0 L320.4 428.8 L322.4 427.6 L324.4 426.3 L326.3 425.0 L328.2 423.6 L330.1 422.2 L332.0 420.7 L333.8 419.2 L335.6 417.7 L337.3 416.1 L339.0 414.4 L340.6 412.8 L342.2 411.1 L343.8 409.3 L345.3 407.5 L346.8 405.7 L348.2 403.9 L349.6 402.0 L350.9 400.1 L352.2 398.1 L353.4 396.2 L354.6 394.2 L355.7 392.1 L356.8 390.1 L357.8 388.0 L358.8 385.9 L359.7 383.8 L360.6 381.6 L361.4 379.5 L362.1 377.3 L362.8 375.1 L363.5 372.9 L364.1 370.6 L364.6 368.4 L365.1 366.1 L365.5 363.9 L365.9 361.6 L366.2 359.3 L366.4 357.0 L366.6 354.7 L366.7 352.4 L366.8 350.1 L366.8 347.8 L366.8 345.5 L366.6 343.2 L366.5 340.9 L366.3 338.6 L365.7 338.7 L365.0 341.0 L364.7 343.3 L364.6 345.6 L364.4 347.8 L364.1 350.1 L363.9 352.3 L363.6 354.5 L363.3 356.7 L362.9 358.9 L362.5 361.1 L362.0 363.3 L361.5 365.4 L361.0 367.6 L360.4 369.7 L359.7 371.9 L359.1 374.0 L358.3 376.1 L357.5 378.1 L356.7 380.2 L355.9 382.2 L355.0 384.2 L354.0 386.3 L353.0 388.2 L352.0 390.2 L350.9 392.1 L349.8 394.1 L348.6 396.0 L347.4 397.8 L346.2 399.7 L344.9 401.5 L343.6 403.3 L342.2 405.1 L340.8 406.8 L339.4 408.5 L337.9 410.2 L336.4 411.9 L334.8 413.6 L333.2 415.2 L331.6 416.8 L329.9 418.3 L328.3 419.8 L326.5 421.4 L324.8 422.8 L323.0 424.3 L321.2 425.8 L319.4 427.2 L317.6 428.7 L316.0 430.6Z" fill="#fff" opacity="0.5" filter="url(#b1)"/>
<path d="M319.3 429.7 L321.2 428.5 L323.1 427.4 L325.0 426.1 L326.8 424.9 L328.6 423.6 L330.4 422.2 L332.1 420.8 L333.8 419.4 L335.5 418.0 L337.1 416.5 L338.7 414.9 L340.3 413.4 L341.8 411.8 L343.3 410.2 L344.8 408.5 L346.2 406.8 L347.5 405.1 L348.9 403.3 L350.1 401.5 L351.4 399.7 L352.6 397.9 L353.7 396.0 L354.8 394.1 L355.9 392.2 L356.9 390.3 L357.9 388.3 L358.8 386.4 L359.7 384.4 L360.5 382.3 L361.3 380.3 L362.0 378.3 L362.7 376.2 L363.3 374.1 L363.9 372.0 L364.5 369.9 L364.9 367.8 L365.4 365.7 L365.8 363.5 L366.1 361.4 L366.4 359.2 L366.6 357.1 L366.8 354.9 L366.9 352.7 L367.0 350.6 L367.0 348.4 L367.0 346.2 L366.9 344.1 L366.8 341.9 L366.0 341.9 L365.7 344.1 L365.6 346.3 L365.4 348.4 L365.3 350.5 L365.1 352.7 L364.9 354.8 L364.7 356.9 L364.4 359.0 L364.0 361.1 L363.7 363.2 L363.2 365.3 L362.8 367.3 L362.2 369.4 L361.7 371.4 L361.1 373.5 L360.4 375.5 L359.7 377.5 L359.0 379.5 L358.2 381.5 L357.4 383.4 L356.5 385.4 L355.6 387.3 L354.7 389.2 L353.7 391.1 L352.6 392.9 L351.6 394.8 L350.5 396.6 L349.3 398.4 L348.1 400.2 L346.9 401.9 L345.6 403.6 L344.3 405.3 L342.9 407.0 L341.6 408.7 L340.1 410.3 L338.7 411.9 L337.2 413.4 L335.7 415.0 L334.1 416.5 L332.5 417.9 L330.9 419.4 L329.2 420.8 L327.6 422.2 L325.8 423.5 L324.1 424.9 L322.4 426.2 L320.6 427.5 L318.9 429.0Z" fill="#fff" opacity="0.9" filter="url(#b1)"/>
</g></g></g>
<path d="M168.6 252V445.3H369" fill="none" stroke="#999" stroke-width="1"/>
<path d="M172.4 445.3v-1.8M168.6 442.0h1.8M220.6 445.3v-1.8M168.6 395.3h1.8M268.9 445.3v-1.8M168.6 348.6h1.8M317.1 445.3v-1.8M168.6 301.9h1.8M365.4 445.3v-1.8M168.6 255.2h1.8" fill="none" stroke="#999" stroke-width="0.8"/>
<text x="173.0" y="459.2" font-size="10.2" text-anchor="middle" fill="#1a1a1a" font-weight="bold">-1000</text>
<text x="164.6" y="445.0" font-size="10.2" text-anchor="end" fill="#1a1a1a" font-weight="bold">-1000</text>
<text x="221.2" y="459.2" font-size="10.2" text-anchor="middle" fill="#1a1a1a" font-weight="bold">-500</text>
<text x="164.6" y="398.6" font-size="10.2" text-anchor="end" fill="#1a1a1a" font-weight="bold">-500</text>
<text x="268.9" y="459.2" font-size="10.2" text-anchor="middle" fill="#1a1a1a" font-weight="bold">0</text>
<text x="164.6" y="352.2" font-size="10.2" text-anchor="end" fill="#1a1a1a" font-weight="bold">0</text>
<text x="317.1" y="459.2" font-size="10.2" text-anchor="middle" fill="#1a1a1a" font-weight="bold">500</text>
<text x="164.6" y="305.8" font-size="10.2" text-anchor="end" fill="#1a1a1a" font-weight="bold">500</text>
<text x="365.4" y="459.2" font-size="10.2" text-anchor="middle" fill="#1a1a1a" font-weight="bold">1000</text>
<text x="164.6" y="259.4" font-size="10.2" text-anchor="end" fill="#1a1a1a" font-weight="bold">1000</text>
<text x="269.5" y="473.4" font-size="12.2" text-anchor="middle" fill="#111" font-weight="bold" textLength="40.6" lengthAdjust="spacingAndGlyphs">x(pixel)</text>
<text x="0" y="0" font-size="12.2" text-anchor="middle" fill="#111" font-weight="bold" textLength="40" lengthAdjust="spacingAndGlyphs" transform="translate(136.3 348) rotate(-90)">y(pixel)</text>
<text x="276.2" y="494.6" font-size="14" text-anchor="middle" fill="#222" letter-spacing="0.6">(c)</text>
<rect x="381" y="251.9" width="15.3" height="193" fill="url(#par)" stroke="#444" stroke-width="0.6"/>
<path d="M396.3 348.5h-1.8" stroke="#444" stroke-width="0.7"/>
<text x="400" y="255" font-size="9.7" text-anchor="start" fill="#111" font-weight="bold">0.005</text>
<text x="400.3" y="351.8" font-size="9.7" text-anchor="start" fill="#111" font-weight="bold">0</text>
<text x="400" y="450" font-size="9.7" text-anchor="start" fill="#111" font-weight="bold">-0.005</text>
<text x="389.8" y="245.2" font-size="9.7" text-anchor="middle" fill="#111" font-weight="bold" textLength="75" lengthAdjust="spacingAndGlyphs">Wave aberration/λ</text>
</g>
</svg>
</body></html>
